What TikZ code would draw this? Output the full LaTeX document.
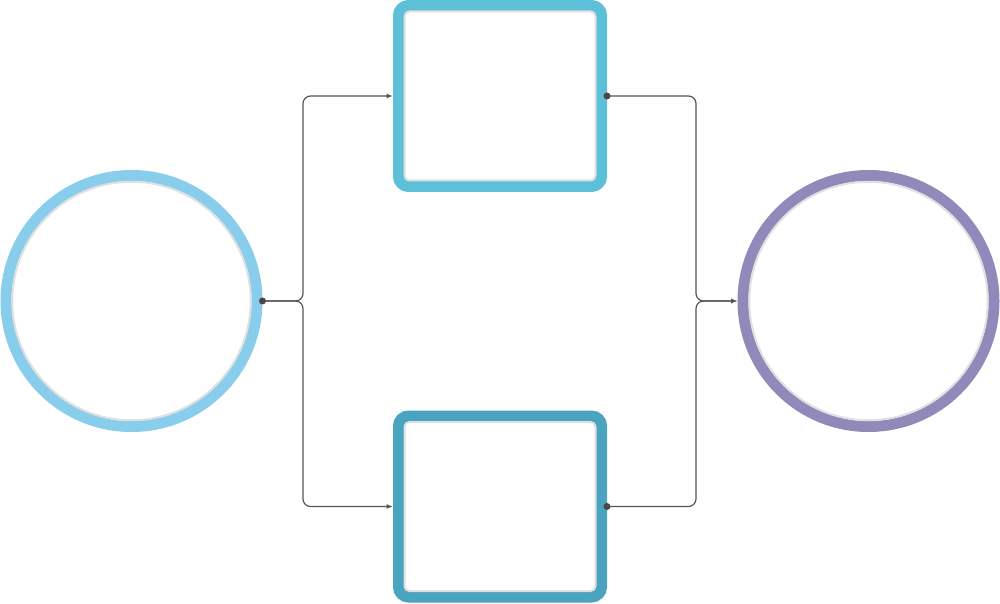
\documentclass[tikz,border=0pt]{standalone}
\usepackage{xcolor}
\usetikzlibrary{arrows.meta}
\usetikzlibrary{shapes.geometric}

\definecolor{skyring}{HTML}{88CDEB}
\definecolor{topbox}{HTML}{5BC0D8}
\definecolor{lowbox}{HTML}{4AA4C0}
\definecolor{plumring}{HTML}{9189B9}
\definecolor{wire}{HTML}{555555}

\begin{document}
\begin{tikzpicture}[
		ringnode/.style={
			draw,
			circle,
			fill=white,
			line width=0.22cm,
			minimum size=5.02cm,
			inner sep=0pt,
		},
		boxnode/.style={
			draw,
			rectangle,
			fill=white,
			rounded corners=0.2cm,
			line width=0.22cm,
			minimum width=4.06cm,
			minimum height=3.62cm,
			inner sep=0pt,
		},
		shade/.style={draw=black!12, line width=0.04cm},
		link/.style={draw=wire, line width=0.024cm, rounded corners=0.15cm},
		flow/.style={link, -{Latex[length=0.13cm,width=0.1cm]}},
		pin/.style={fill=wire!85!black}]
		\useasboundingbox (0,0) rectangle (20,12.06);
		
		\node[ringnode, draw=skyring] (src) at (2.63,6.04) {};
		\node[ringnode, draw=plumring] (sink) at (17.37,6.04) {};
		\node[boxnode, draw=topbox] (upper) at (10,10.14) {};
		\node[boxnode, draw=lowbox] (lower) at (10,1.93) {};
		
		% soft inner edge
		\foreach \n in {src, sink}
			\draw[shade] (\n.center) circle (2.385cm);
		\foreach \n in {upper, lower}
			\draw[shade, rounded corners=0.1cm] ([shift={(0.23cm,-0.23cm)}]\n.north west) rectangle ([shift={(-0.23cm,0.23cm)}]\n.south east);
		
		\coordinate (split) at (6.06,6.04);
		\coordinate (merge) at (13.92,6.04);
		
		\draw[flow] (src.east) -- (split) |- (upper.west);
		\draw[flow] (src.east) -- (split) |- (lower.west);
		\draw[flow] (upper.east) -| (merge) -- (sink.west);
		\draw[flow] (lower.east) -| (merge) -- (sink.west);
		
		\fill[pin] (src.east) circle (0.07cm);
		\fill[pin] (upper.east) circle (0.07cm);
		\fill[pin] (lower.east) circle (0.07cm);
	\end{tikzpicture}
\end{document}
